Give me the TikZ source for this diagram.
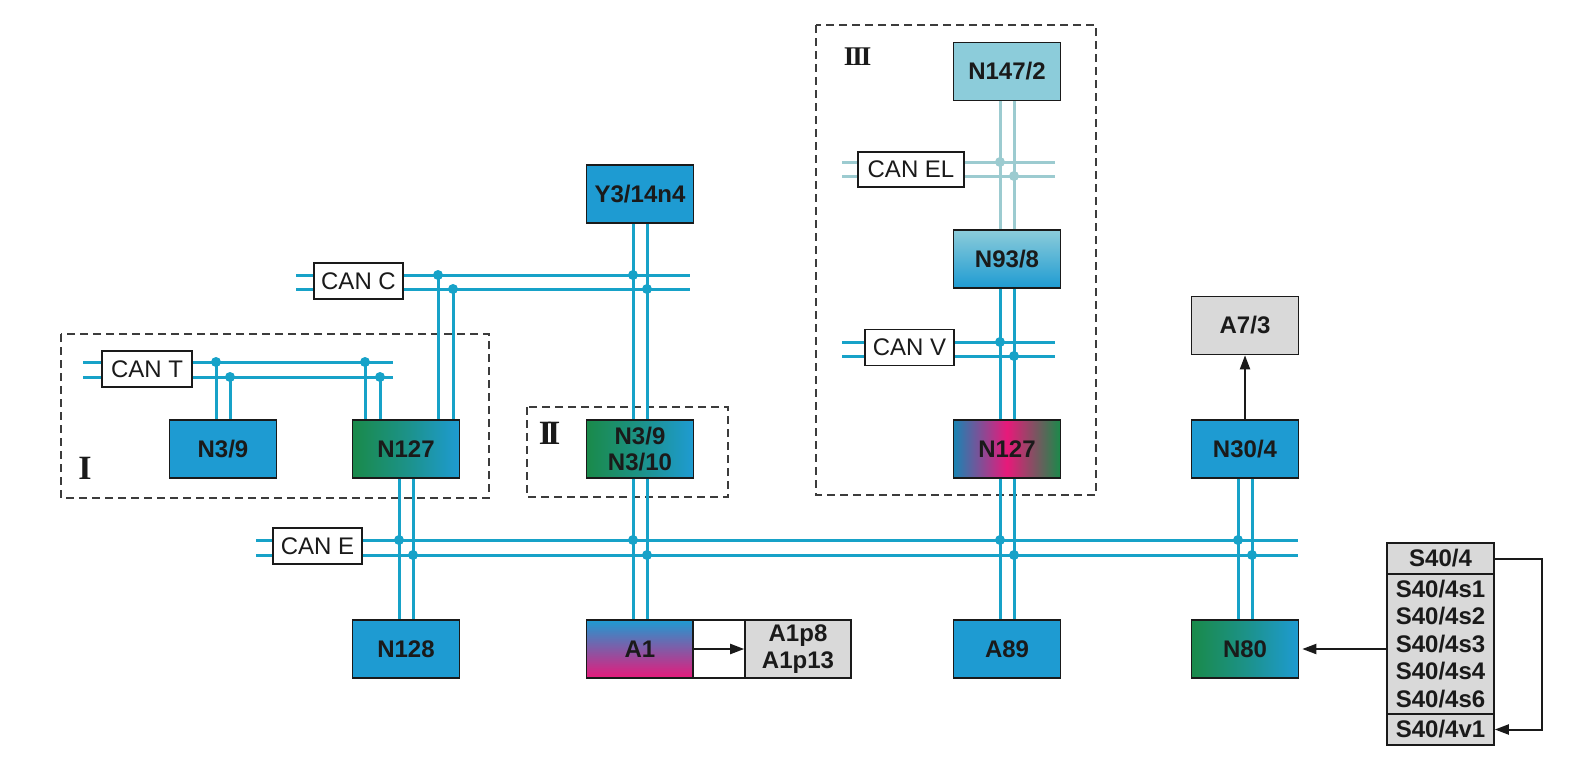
\documentclass[tikz,border=0pt]{standalone}
\usepackage{fontspec}
\setmainfont{Liberation Sans}
\newfontfamily\romanfont{Liberation Serif}
\usetikzlibrary{arrows.meta,calc}
\definecolor{blu}{HTML}{1E9BD2}
\definecolor{grn}{HTML}{1A8A4A}
\definecolor{pnk}{HTML}{E8197A}
\definecolor{wirec}{HTML}{17A2C8}
\definecolor{wireg}{HTML}{9CCBD0}
\definecolor{lblu}{HTML}{8CCCDA}
\definecolor{gry}{HTML}{D9D9D9}
\definecolor{txt}{HTML}{1A1A1A}
\begin{document}
\begin{tikzpicture}[x=1pt,y=-1pt,
  ecu/.style={draw=txt, line width=1.6pt, minimum width=107pt, minimum height=58pt, inner sep=0pt,
    font=\bfseries\fontsize{24}{28}\selectfont, text=txt, align=center},
  graybox/.style={ecu, fill=gry},
  canlbl/.style={draw=txt, fill=white, line width=1.6pt, minimum height=36pt, inner sep=0pt,
    font=\fontsize{24}{28}\selectfont, text=txt},
  wire/.style={draw=wirec, line width=3pt},
  gwire/.style={draw=wireg, line width=3pt},
  dot/.style={fill=wirec},
  gdot/.style={fill=wireg},
  dashbox/.style={draw=txt!85, line width=1.6pt, dash pattern=on 8pt off 5pt},
  sig/.style={draw=txt, line width=2pt, -{Triangle[length=14pt,width=10pt]}},
  roman/.style={font=\romanfont\bfseries\fontsize{34}{34}\selectfont, text=txt, inner sep=0pt}
]
\useasboundingbox (0,0) rectangle (1584,761);

% dashed groups
\draw[dashbox] (61,334) rectangle (489,498);
\draw[dashbox] (527,407) rectangle (728,497);
\draw[dashbox] (816,25) rectangle (1096,495);
\node[roman] (rI) at (85,468) {I};
\node[roman] (rII) at (549.5,433) {I\kern-5ptI};
\node[roman, font=\romanfont\bfseries\fontsize{27}{27}\selectfont] (rIII) at (857.5,56.5) {I\kern-2ptI\kern-2ptI};

% bus end coordinates
\coordinate (cCa) at (296,275); \coordinate (cCae) at (690,275);
\coordinate (cCb) at (296,289); \coordinate (cCbe) at (690,289);
\coordinate (cTa) at (83,362);  \coordinate (cTae) at (393,362);
\coordinate (cTb) at (83,377);  \coordinate (cTbe) at (393,377);
\coordinate (cEa) at (256,540); \coordinate (cEae) at (1298,540);
\coordinate (cEb) at (256,555); \coordinate (cEbe) at (1298,555);
\coordinate (cLa) at (842,162); \coordinate (cLae) at (1055,162);
\coordinate (cLb) at (842,176); \coordinate (cLbe) at (1055,176);
\coordinate (cVa) at (842,342); \coordinate (cVae) at (1055,342);
\coordinate (cVb) at (842,356); \coordinate (cVbe) at (1055,356);

% buses
\draw[wire] (cCa) -- (cCae); \draw[wire] (cCb) -- (cCbe);
\draw[wire] (cTa) -- (cTae); \draw[wire] (cTb) -- (cTbe);
\draw[wire] (cEa) -- (cEae); \draw[wire] (cEb) -- (cEbe);
\draw[gwire] (cLa) -- (cLae); \draw[gwire] (cLb) -- (cLbe);
\draw[wire] (cVa) -- (cVae); \draw[wire] (cVb) -- (cVbe);

% ECUs
\node[ecu, fill=blu] (n39) at (223,449) {N3/9};
\node[ecu, left color=grn, right color=blu, middle color=grn!55!blu] (n127a) at (406,449) {N127};
\node[ecu, fill=blu] (n128) at (406,649) {N128};
\node[ecu, fill=blu] (y3) at (640,194) {Y3/14n4};
\node[ecu, left color=grn, right color=blu, middle color=grn!55!blu, font=\bfseries\fontsize{24}{26}\selectfont] (n3b) at (640,449) {N3/9\\N3/10};
\node[ecu, top color=blu, bottom color=pnk, middle color=blu!50!pnk] (a1) at (640,649) {A1};
\node[ecu, minimum width=52pt, fill=white] (abox) at (719,649) {};
\node[graybox, minimum width=106pt, font=\bfseries\fontsize{24}{27}\selectfont] (a1p) at (798,649) {A1p8\\A1p13};
\node[ecu, fill=lblu] (n147) at (1007,71.5) {N147/2};
\node[ecu, top color=lblu, bottom color=blu] (n93) at (1007,259) {N93/8};
\node[ecu, left color=blu!85!black, right color=grn, middle color=pnk] (n127b) at (1007,449) {N127};
\node[ecu, fill=blu] (a89) at (1007,649) {A89};
\node[graybox] (a73) at (1245,325.5) {A7/3};
\node[ecu, fill=blu] (n304) at (1245,449) {N30/4};
\node[ecu, left color=grn, right color=blu, middle color=grn!55!blu] (n80) at (1245,649) {N80};

% S40/4 block
\node[graybox, minimum width=107pt, minimum height=31pt] (s40top) at (1440.5,558.5) {\fontsize{24}{24}\selectfont S40/4};
\node[graybox, minimum width=107pt, minimum height=140pt, font=\bfseries\fontsize{24}{27.5}\selectfont] (s40mid) at (1440.5,644) {S40/4s1\\S40/4s2\\S40/4s3\\S40/4s4\\S40/4s6};
\node[graybox, minimum width=107pt, minimum height=31pt] (s40v1) at (1440.5,729.5) {\fontsize{24}{24}\selectfont S40/4v1};

% CAN labels
\node[canlbl, minimum width=89pt] (canC) at (358.5,281) {CAN C};
\node[canlbl, minimum width=90pt] (canT) at (147,369) {CAN T};
\node[canlbl, minimum width=89pt] (canE) at (317.5,546) {CAN E};
\node[canlbl, minimum width=106pt, minimum height=35pt] (canEL) at (911,169.5) {CAN EL};
\node[canlbl, minimum width=89pt] (canV) at (909.5,347.5) {CAN V};

% vertical wires
% N3/9 to CAN T
\draw[wire] ([xshift=-7pt]n39.north) -- ([xshift=-7pt]n39.north |- cTa);
\draw[wire] ([xshift=7pt]n39.north) -- ([xshift=7pt]n39.north |- cTb);
\fill[dot] ([xshift=-7pt]n39.north |- cTa) circle (5pt);
\fill[dot] ([xshift=7pt]n39.north |- cTb) circle (5pt);
% N127 to CAN T
\draw[wire] ([xshift=-41pt]n127a.north) -- ([xshift=-41pt]n127a.north |- cTa);
\draw[wire] ([xshift=-26pt]n127a.north) -- ([xshift=-26pt]n127a.north |- cTb);
\fill[dot] ([xshift=-41pt]n127a.north |- cTa) circle (5pt);
\fill[dot] ([xshift=-26pt]n127a.north |- cTb) circle (5pt);
% N127 to CAN C
\draw[wire] ([xshift=32pt]n127a.north) -- ([xshift=32pt]n127a.north |- cCa);
\draw[wire] ([xshift=47pt]n127a.north) -- ([xshift=47pt]n127a.north |- cCb);
\fill[dot] ([xshift=32pt]n127a.north |- cCa) circle (5pt);
\fill[dot] ([xshift=47pt]n127a.north |- cCb) circle (5pt);
% N127 to N128 through CAN E
\draw[wire] ([xshift=-7pt]n127a.south) -- ([xshift=-7pt]n128.north);
\draw[wire] ([xshift=7pt]n127a.south) -- ([xshift=7pt]n128.north);
\fill[dot] ([xshift=-7pt]n128.north |- cEa) circle (5pt);
\fill[dot] ([xshift=7pt]n128.north |- cEb) circle (5pt);
% Y3 to N3/9 N3/10 through CAN C
\draw[wire] ([xshift=-7pt]y3.south) -- ([xshift=-7pt]n3b.north);
\draw[wire] ([xshift=7pt]y3.south) -- ([xshift=7pt]n3b.north);
\fill[dot] ([xshift=-7pt]y3.south |- cCa) circle (5pt);
\fill[dot] ([xshift=7pt]y3.south |- cCb) circle (5pt);
% N3/9 N3/10 to A1 through CAN E
\draw[wire] ([xshift=-7pt]n3b.south) -- ([xshift=-7pt]a1.north);
\draw[wire] ([xshift=7pt]n3b.south) -- ([xshift=7pt]a1.north);
\fill[dot] ([xshift=-7pt]a1.north |- cEa) circle (5pt);
\fill[dot] ([xshift=7pt]a1.north |- cEb) circle (5pt);
% N147/2 to N93/8 through CAN EL
\draw[gwire] ([xshift=-7pt]n147.south) -- ([xshift=-7pt]n93.north);
\draw[gwire] ([xshift=7pt]n147.south) -- ([xshift=7pt]n93.north);
\fill[gdot] ([xshift=-7pt]n93.north |- cLa) circle (5pt);
\fill[gdot] ([xshift=7pt]n93.north |- cLb) circle (5pt);
% N93/8 to N127 through CAN V
\draw[wire] ([xshift=-7pt]n93.south) -- ([xshift=-7pt]n127b.north);
\draw[wire] ([xshift=7pt]n93.south) -- ([xshift=7pt]n127b.north);
\fill[dot] ([xshift=-7pt]n127b.north |- cVa) circle (5pt);
\fill[dot] ([xshift=7pt]n127b.north |- cVb) circle (5pt);
% N127 to A89 through CAN E
\draw[wire] ([xshift=-7pt]n127b.south) -- ([xshift=-7pt]a89.north);
\draw[wire] ([xshift=7pt]n127b.south) -- ([xshift=7pt]a89.north);
\fill[dot] ([xshift=-7pt]a89.north |- cEa) circle (5pt);
\fill[dot] ([xshift=7pt]a89.north |- cEb) circle (5pt);
% N30/4 to N80 through CAN E
\draw[wire] ([xshift=-7pt]n304.south) -- ([xshift=-7pt]n80.north);
\draw[wire] ([xshift=7pt]n304.south) -- ([xshift=7pt]n80.north);
\fill[dot] ([xshift=-7pt]n80.north |- cEa) circle (5pt);
\fill[dot] ([xshift=7pt]n80.north |- cEb) circle (5pt);

% signal arrows
\draw[sig] (a1.east) -- (a1p.west);
\draw[sig] (n304.north) -- (a73.south);
\draw[sig] (s40mid.west |- n80.east) -- ([xshift=3pt]n80.east);
\draw[sig] (s40top.east) -- ++(47,0) |- (s40v1.east);
\end{tikzpicture}
\end{document}
